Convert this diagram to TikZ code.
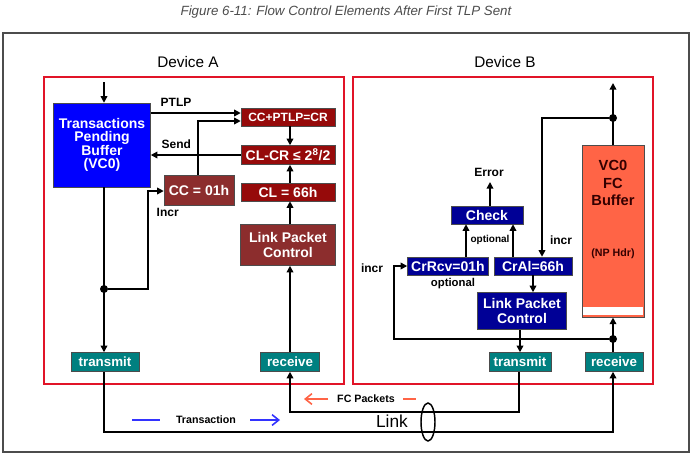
\documentclass[tikz,border=0pt]{standalone}
\usepackage{fontspec}
\setmainfont{Liberation Sans}
\usetikzlibrary{arrows.meta,shapes.geometric}
\definecolor{dred}{RGB}{150,10,10}
\definecolor{brn}{RGB}{140,45,45}
\definecolor{nav}{RGB}{0,0,150}
\definecolor{tl}{RGB}{0,128,128}
\definecolor{tom}{RGB}{255,100,70}
\definecolor{redb}{RGB}{225,20,40}
\begin{document}
\begin{tikzpicture}[x=0.75pt,y=-0.75pt,
  box/.style={draw=gray!60!black,line width=0.4pt,text=white,font=\bfseries\fontsize{9}{10}\selectfont,inner sep=0pt,align=center},
  bf/.style={font=\bfseries\fontsize{#1}{#1}\selectfont},
  lbl/.style={font=\bfseries\fontsize{9}{10}\selectfont},
  ar/.style={-{Triangle[length=5pt,width=5pt]},line width=1.1pt},
  dot/.style={circle,fill,inner sep=0pt,minimum size=6pt}]
\useasboundingbox (0,0) rectangle (692,455);
\fill[white] (0,0) rectangle (692,455);
\node[text=gray!60!black,font=\rmfamily\itshape\fontsize{10}{11}\selectfont] (title) at (346,12) {Figure 6-11: Flow Control Elements After First TLP Sent};
\draw[gray!60!black,line width=1.5pt] (3,33) rectangle (689,452);
\draw[redb,line width=1.5pt] (44,77) rectangle (344,384);
\draw[redb,line width=1.5pt] (353,77) rectangle (653,384);
\node[font=\fontsize{11.5}{12}\selectfont] (devA) at (188,62) {Device A};
\node[font=\fontsize{11.5}{12}\selectfont] (devB) at (505,62) {Device B};
% Device A
\node[box,fill=blue,minimum width=0.75*97,minimum height=0.75*84,font=\bfseries\fontsize{10.5}{10}\selectfont] (tpb) at (102,145) {Transactions\\Pending\\Buffer\\(VC0)};
\node[box,fill=dred,minimum width=0.75*94,minimum height=0.75*18] (ccp) at (288,117) {CC+PTLP=CR};
\node[box,fill=dred,minimum width=0.75*94,minimum height=0.75*19,font=\bfseries\fontsize{10.5}{10}\selectfont] (clcr) at (288,155) {CL-CR ≤ 2\textsuperscript{8}/2};
\node[box,fill=brn,minimum width=0.75*70,minimum height=0.75*30,font=\bfseries\fontsize{10.5}{10}\selectfont] (cc) at (199,190) {CC = 01h};
\node[box,fill=dred,minimum width=0.75*94,minimum height=0.75*18,font=\bfseries\fontsize{10.5}{10}\selectfont] (cl) at (288,192) {CL = 66h};
\node[box,fill=brn,minimum width=0.75*95,minimum height=0.75*41,font=\bfseries\fontsize{10.5}{11}\selectfont] (lpa) at (288,245) {Link Packet\\Control};
\node[box,fill=tl,minimum width=0.75*68,minimum height=0.75*19,font=\bfseries\fontsize{10}{10}\selectfont] (txa) at (105,362) {transmit};
\node[box,fill=tl,minimum width=0.75*59,minimum height=0.75*19,font=\bfseries\fontsize{10}{10}\selectfont] (rxa) at (290,362) {receive};
\coordinate (inA) at (104,82);
\draw[ar] (inA) -- (tpb.north -| inA);
\draw[ar] (tpb.east |- 0,113) -- (ccp.west |- 0,113);
\node[lbl,anchor=south west] (ptlp) at (156,111) {PTLP};
\draw[ar] (cc.north -| 198,0) |- (ccp.west |- 0,121);
\draw[ar] (clcr.west) -- (tpb.east |- clcr.west);
\node[lbl,anchor=south west] (send) at (157,153) {Send};
\draw[ar] (ccp.south -| 290,0) -- (clcr.north -| 290,0);
\draw[ar] (cl.north -| 290,0) -- (clcr.south -| 290,0);
\draw[ar] (lpa.north -| 290,0) -- (cl.south -| 290,0);
\draw[ar] (rxa.north) -- (lpa.south -| rxa);
\draw[ar] (tpb.south -| 104,0) -- (txa.north -| 104,0);
\node[dot] (da) at (104,289) {};
\draw[ar] (da) -| (148,191) -- (cc.west |- 0,191);
\node[lbl,anchor=north west] (incrA) at (152,204) {Incr};
% Device B
\node[box,fill=tom,minimum width=0.75*62,minimum height=0.75*172,anchor=north] (buf) at (613,145) {};
\fill[white] (583,307) rectangle (643,315);
\node[font=\bfseries\fontsize{11}{13}\selectfont,align=center,text=black!80!red] (buft) at (613,183) {VC0\\FC\\Buffer};
\node[font=\bfseries\fontsize{8}{9}\selectfont,text=black!80!red] (bufn) at (613,254) {(NP Hdr)};
\node[box,fill=nav,minimum width=0.75*72,minimum height=0.75*18,font=\bfseries\fontsize{10.5}{10}\selectfont] (chk) at (487,215) {Check};
\node[box,fill=nav,minimum width=0.75*81,minimum height=0.75*18,font=\bfseries\fontsize{10.5}{10}\selectfont] (crr) at (448,266) {CrRcv=01h};
\node[box,fill=nav,minimum width=0.75*78,minimum height=0.75*18,font=\bfseries\fontsize{10.5}{10}\selectfont] (cra) at (533,266) {CrAl=66h};
\node[box,fill=nav,minimum width=0.75*89,minimum height=0.75*37,font=\bfseries\fontsize{10.5}{11}\selectfont] (lpb) at (522,311) {Link Packet\\Control};
\node[box,fill=tl,minimum width=0.75*62,minimum height=0.75*19,font=\bfseries\fontsize{10}{10}\selectfont] (txb) at (520,362) {transmit};
\node[box,fill=tl,minimum width=0.75*58,minimum height=0.75*19,font=\bfseries\fontsize{10}{10}\selectfont] (rxb) at (614,362) {receive};
\node[lbl] (err) at (489,172) {Error};
\draw[ar] (chk.north -| 490,0) -- (490,182);
\draw[ar] (crr.north -| 466,0) -- (chk.south -| 466,0);
\draw[ar] (cra.north -| 513,0) -- (chk.south -| 513,0);
\node[font=\bfseries\fontsize{7.5}{8}\selectfont] (opt1) at (490,240) {optional};
\node[font=\bfseries\fontsize{8.5}{8}\selectfont] (opt2) at (453,284) {optional};
\coordinate (outB) at (613,83);
\draw[ar] (buf.north) -- (outB);
\node[dot] (db1) at (613,118) {};
\draw[ar] (db1) -| (cra.north -| 542,0);
\node[lbl] (incr1) at (561,240) {incr};
\draw[ar] (cra.south -| 533,0) -- (lpb.north -| 533,0);
\draw[ar] (lpb.south -| 520,0) -- (txb.north);
\node[dot] (db2) at (613,339) {};
\draw[ar] (rxb.north -| 613,0) -- (buf.south);
\draw[ar] (db2) -| (394,266) -- (crr.west);
\node[lbl] (incr2) at (372,268) {incr};
% link
\coordinate (l2) at (290,412);
\draw[ar] (txa.south -| 104,0) |- (613,432) -- (rxb.south -| 613,0);
\draw[ar] (txb.south -| 519,0) |- (l2) -- (rxa.south);
\node[draw,ellipse,line width=1.1pt,minimum width=0.75*14,minimum height=0.75*38,inner sep=0pt] (ell) at (428,422) {};
\node[font=\fontsize{13}{14}\selectfont] (link) at (392,421) {Link};
\node[font=\bfseries\fontsize{8}{8}\selectfont] (trn) at (206,420) {Transaction};
\draw[blue!80!white,line width=1.2pt] (132,420) -- (160,420);
\draw[blue!80!white,line width=1.2pt,-{Straight Barb[length=5pt,width=8pt]}] (250,420) -- (280,420);
\node[font=\bfseries\fontsize{8}{8}\selectfont] (fcp) at (366,399) {FC Packets};
\draw[tom,line width=1.2pt,-{Straight Barb[length=5pt,width=8pt]}] (328,399) -- (304,399);
\draw[tom,line width=1.2pt] (403,399) -- (416,399);
\end{tikzpicture}
\end{document}
